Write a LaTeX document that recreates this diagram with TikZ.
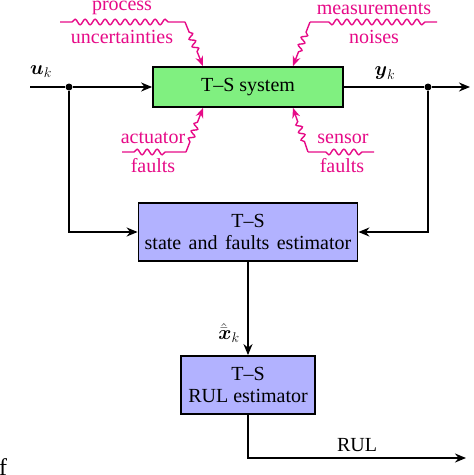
\RequirePackage{fix-cm}
\documentclass[tikz,border=0pt]{standalone}
\usepackage{amsmath}
\usepackage{fontspec}
\setmainfont{Liberation Serif}
\usetikzlibrary{arrows.meta,decorations.pathmorphing}
\definecolor{tsgreen}{RGB}{128,240,128}
\definecolor{tsblue}{RGB}{178,178,255}
\definecolor{wavepink}{RGB}{230,10,135}
\begin{document}
\begin{tikzpicture}[x=1pt,y=-1pt,
  every node/.style={font=\fontsize{20}{22}\selectfont},
  block/.style={draw, line width=1.8pt, inner sep=0pt, align=center},
  sig/.style={line width=1.8pt, -{Stealth[length=11pt,width=9pt]}},
  plain/.style={line width=1.8pt},
  wave/.style={draw=wavepink, line width=1.4pt, decorate,
    decoration={snake, amplitude=2.8pt, segment length=10pt, pre length=12pt, post length=16pt}},
  wavearrow/.style={draw=wavepink, line width=1.4pt, decorate,
    decoration={snake, amplitude=2.8pt, segment length=8pt, pre length=11pt, post length=12pt},
    -{Stealth[length=10pt,width=8pt]}},
  plabel/.style={text=wavepink, anchor=base, inner sep=0pt},
  dot/.style={circle, fill, inner sep=0pt, minimum size=7pt}
]
\useasboundingbox (0,0) rectangle (474,475);

% blocks
\node[block, fill=tsgreen, minimum width=190pt, minimum height=40pt] (sys) at (248,87) {T–S system};
\node[block, fill=tsblue, minimum width=219pt, minimum height=58pt] (est) at (248,232) {T–S\\state\hspace{0.12em} and\hspace{0.12em} faults\hspace{0.12em} estimator};
\node[block, fill=tsblue, minimum width=134pt, minimum height=58pt] (rul) at (248,385) {T–S\\RUL estimator};

% signals
\coordinate (uin) at (30,87);
\node[dot] (du) at (69,87) {};
\coordinate (yout) at (470,87);
\node[dot] (dy) at (428,87) {};
\coordinate (rulend) at (466,458);

\draw[plain] (uin) -- (du);
\draw[sig] (du) -- (sys.west);
\draw[plain] (sys.east) -- (dy);
\draw[sig] (dy) -- (yout);
\draw[sig] (du) |- (est.west);
\draw[sig] (dy) |- (est.east);
\draw[sig] (est.south) -- (rul.north);
\draw[sig] (rul.south) |- (rulend) node[pos=0.75, above=2pt] (rullab) {RUL};

\node (ulab) at (41,72) {$\boldsymbol{u}_k$};
\node (ylab) at (385,73) {$\boldsymbol{y}_k$};
\node (xlab) at (229,333) {$\hat{\bar{\boldsymbol{x}}}_k$};

% disturbances
\coordinate (p0) at (60,22);  \coordinate (p1) at (185,22);
\coordinate (m0) at (437,22); \coordinate (m1) at (310,22);
\coordinate (a0) at (122,152); \coordinate (a1) at (186,152);
\coordinate (s0) at (374,152); \coordinate (s1) at (308,152);

\draw[wave] (p0) -- (p1);
\draw[wavearrow] (p1) -- ([xshift=-45pt]sys.north);
\draw[wave] (m0) -- (m1);
\draw[wavearrow] (m1) -- ([xshift=45pt]sys.north);
\draw[wave] (a0) -- (a1);
\draw[wavearrow] (a1) -- ([xshift=-45pt]sys.south);
\draw[wave] (s0) -- (s1);
\draw[wavearrow] (s1) -- ([xshift=45pt]sys.south);

\node[plabel] (lproc) at (122,10) {process};
\node[plabel] (lunc) at (122,43) {uncertainties};
\node[plabel] (lmeas) at (374,14) {measurements};
\node[plabel] (lnoi) at (374,43) {noises};
\node[plabel] (lact) at (153,143) {actuator};
\node[plabel] (lfa1) at (153,172) {faults};
\node[plabel] (lsen) at (343,143) {sensor};
\node[plabel] (lfa2) at (342,172) {faults};

\node[anchor=base west, inner sep=0pt, font=\fontsize{24}{26}\selectfont] (stray) at (-1,475) {f};
\end{tikzpicture}
\end{document}
